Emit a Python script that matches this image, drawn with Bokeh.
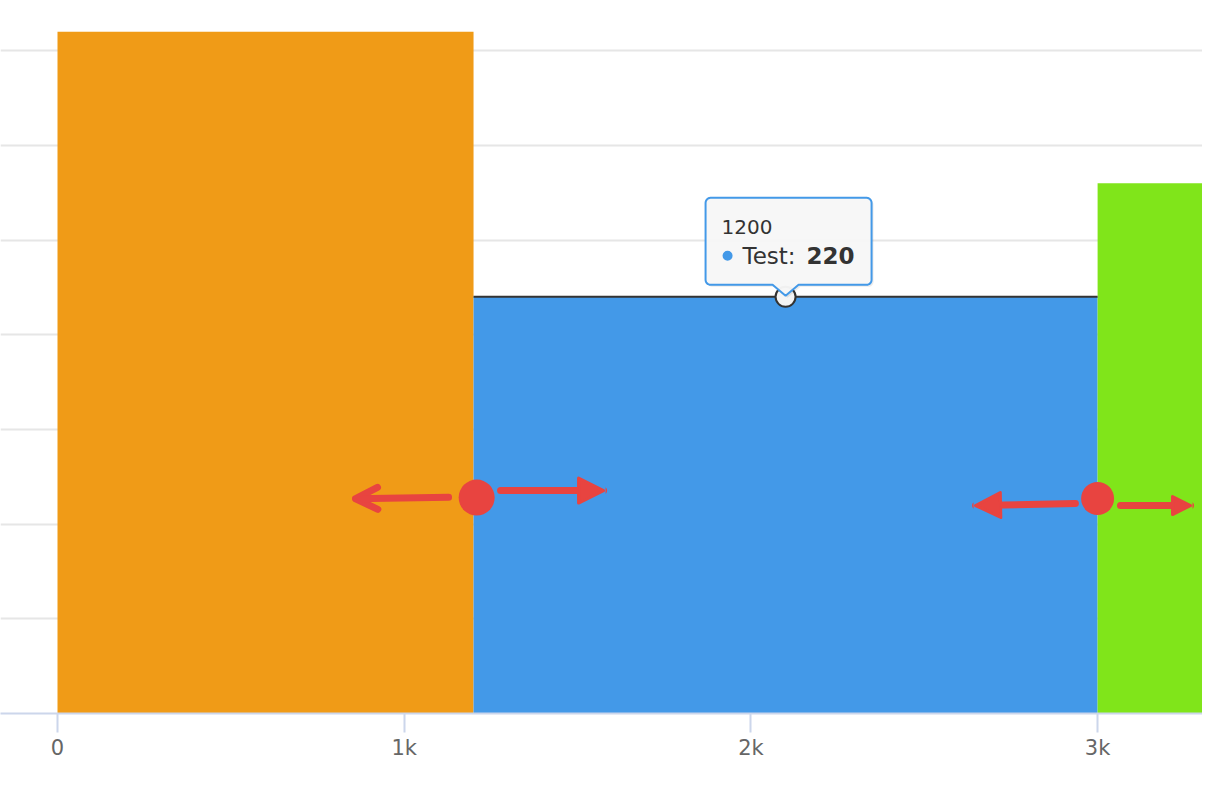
from bokeh.plotting import figure
from bokeh.models import FixedTicker, Arrow, OpenHead, NormalHead, Range1d
from bokeh.embed import file_html
from bokeh.resources import INLINE
from bokeh.core.properties import value
import math

# ---------------- data ----------------
series_name = "Test"
bar_start = [0, 1200, 3000]
bar_end = [1200, 3000, 3600]
bar_value = [360, 220, 280]
bar_colors = ["#f09b17", "#4399e8", "#80e51a"]
x_ticks = [0, 1000, 2000, 3000]
x_tick_labels = ["0", "1k", "2k", "3k"]
y_grid = [0, 50, 100, 150, 200, 250, 300, 350]
hovered = 1

# hand-drawn red annotations (data units)
blob_x = [1209, 3000]
blob_y = [114, 113.5]
blob_size = [36, 33]
arrow_x_start = [1128, 1278, 2936, 3066]
arrow_y_start = [114.2, 117.7, 110.9, 109.8]
arrow_x_end = [860, 1575, 2648, 3268]
arrow_y_end = [113.4, 117.7, 109.8, 109.8]
arrow_head = ["open", "normal", "normal", "small"]

RED = "#e84440"
FONT = "DejaVu Sans"

# ---------------- layout ----------------
W, H = 1202, 784
FH = 713
SX = 0.3467   # px per x unit
SY = 1.894    # px per y unit
X0 = -57 / SX
X1 = X0 + W / SX
Y0, Y1 = 0, FH / SY
sx = W / (X1 - X0)
sy = FH / (Y1 - Y0)

p = figure(width=W, height=H, x_range=Range1d(X0, X1), y_range=Range1d(Y0, Y1),
           output_backend="svg", toolbar_location=None,
           min_border_left=0, min_border_right=0, min_border_top=0,
           min_border_bottom=H - FH, outline_line_color=None,
           background_fill_color="white", border_fill_color="white")

p.yaxis.visible = False
p.yaxis.ticker = FixedTicker(ticks=y_grid)
p.ygrid.ticker = FixedTicker(ticks=y_grid)
p.ygrid.grid_line_color = "#e6e6e6"
p.ygrid.grid_line_width = 2
p.xgrid.visible = False

p.xaxis.ticker = FixedTicker(ticks=x_ticks)
p.xaxis.major_label_overrides = dict(zip(x_ticks, x_tick_labels))
p.xaxis.axis_line_color = "#ccd6eb"
p.xaxis.axis_line_width = 2
p.xaxis.major_tick_line_color = "#ccd6eb"
p.xaxis.major_tick_line_width = 2
p.xaxis.major_tick_in = 0
p.xaxis.major_tick_out = 19
p.xaxis.minor_tick_line_color = None
p.xaxis.major_label_text_color = "#666666"
p.xaxis.major_label_text_font = FONT
p.xaxis.major_label_text_font_size = "21px"
p.xaxis.major_label_standoff = 3

# bars
p.quad(left=bar_start, right=bar_end, bottom=0, top=bar_value,
       fill_color=bar_colors, line_color=None)

# hover outline on top of hovered bar
p.segment(x0=[bar_start[hovered]], y0=[bar_value[hovered]],
          x1=[bar_end[hovered]], y1=[bar_value[hovered]],
          line_color="#333333", line_width=2)

# red annotations
p.scatter(x=blob_x, y=blob_y, size=blob_size, marker="circle",
          fill_color=RED, line_color=None)
for xs, ys, xe, ye, hk in zip(arrow_x_start, arrow_y_start, arrow_x_end, arrow_y_end, arrow_head):
    if hk == "open":
        head = OpenHead(size=22, line_color=RED, line_width=7, line_cap="round", line_join="round")
    elif hk == "small":
        head = NormalHead(size=18, fill_color=RED, line_color=RED, line_width=3, line_join="round")
    else:
        head = NormalHead(size=25, fill_color=RED, line_color=RED, line_width=3, line_join="round")
    p.add_layout(Arrow(end=head, x_start=xs, y_start=ys, x_end=xe, y_end=ye,
                       line_color=RED, line_width=7, line_cap="round"))

# hover marker
ax = (bar_start[hovered] + bar_end[hovered]) / 2
ay = bar_value[hovered]
p.scatter(x=[ax], y=[ay], size=20, marker="circle", fill_color="#f4f4f4",
          line_color="#333333", line_width=2)


# tooltip (pixel offsets from anchor, y downward)
def to_data(px, py, dx=0.0, dy=0.0):
    return ax + (px + dx) / sx, ay - (py + dy) / sy


L, R, T, B, rad, pw = -80, 86, -99, -12, 5, 13
pts = []


def arc(cx, cy, a0, a1, n=6):
    for k in range(n + 1):
        a = math.radians(a0 + (a1 - a0) * k / n)
        pts.append((cx + rad * math.cos(a), cy + rad * math.sin(a)))


arc(L + rad, T + rad, 180, 270)
arc(R - rad, T + rad, 270, 360)
arc(R - rad, B - rad, 0, 90)
pts.append((pw, B))
pts.append((0, -1))
pts.append((-pw, B))
arc(L + rad, B - rad, 90, 180)

shx = [to_data(a, b, 2, 2)[0] for a, b in pts]
shy = [to_data(a, b, 2, 2)[1] for a, b in pts]
p.patch(shx, shy, fill_color="black", fill_alpha=0.08, line_color=None)
tx = [to_data(a, b)[0] for a, b in pts]
ty = [to_data(a, b)[1] for a, b in pts]
p.patch(tx, ty, fill_color="#f7f7f7", fill_alpha=0.97, line_color=bar_colors[hovered], line_width=2)

hx, hy = to_data(-64, -70)
p.text(x=[hx], y=[hy], text=[str(bar_start[hovered])], text_font=value(FONT),
       text_font_size="20px", text_color="#333333", text_baseline="middle", text_align="left")
dx_, dy_ = to_data(-58, -41)
p.scatter(x=[dx_], y=[dy_], size=10, marker="circle", fill_color=bar_colors[hovered], line_color=None)
nx, ny = to_data(-43, -41)
p.text(x=[nx], y=[ny], text=[series_name + ":"], text_font=value(FONT),
       text_font_size="23px", text_color="#333333", text_baseline="middle", text_align="left")
vx, vy = to_data(21, -41)
p.text(x=[vx], y=[vy], text=[str(bar_value[hovered])], text_font=value(FONT),
       text_font_size="23px", text_font_style="bold", text_color="#333333",
       text_baseline="middle", text_align="left")

open("out.html", "w").write(file_html(p, INLINE))
